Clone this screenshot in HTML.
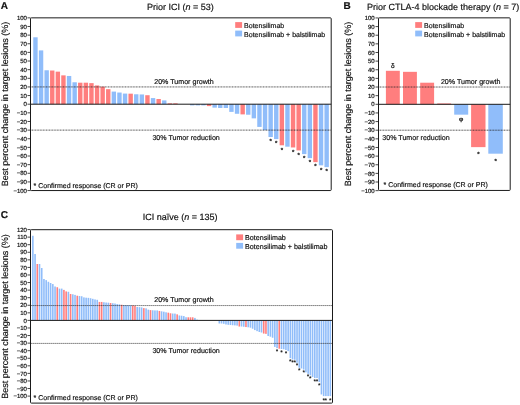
<!DOCTYPE html>
<html lang="en"><head><meta charset="utf-8"><title>Waterfall plots</title>
<style>html,body{margin:0;padding:0;background:#fff;}body{width:520px;height:405px;overflow:hidden;}svg{display:block;}text{text-rendering:geometricPrecision;font-family:'Liberation Sans', Arial, sans-serif;fill:#111;stroke:#111;stroke-width:0.18px;}</style>
</head><body>
<svg width="520" height="405" viewBox="0 0 520 405">
<rect width="520" height="405" fill="#fff"/>
<text x="0.7" y="9.1" font-size="10" font-weight="bold">A</text>
<text x="147" y="10.15" font-size="9">Prior ICI (<tspan font-style="italic">n</tspan> = 53)</text>
<text transform="translate(7.5 104) rotate(-90)" text-anchor="middle" font-size="9">Best percent change in target lesions (%)</text>
<rect x="33.25" y="37.28" width="4.4" height="66.92" fill="#90BDFA"/>
<rect x="38.85" y="50.4" width="4.4" height="53.8" fill="#90BDFA"/>
<rect x="44.45" y="70.26" width="4.4" height="33.94" fill="#90BDFA"/>
<rect x="50.05" y="70.52" width="4.4" height="33.68" fill="#FF7E7E"/>
<rect x="55.65" y="71.65" width="4.4" height="32.55" fill="#FF7E7E"/>
<rect x="61.25" y="75.36" width="4.4" height="28.84" fill="#FF7E7E"/>
<rect x="66.85" y="75.96" width="4.4" height="28.24" fill="#90BDFA"/>
<rect x="72.45" y="82.27" width="4.4" height="21.93" fill="#90BDFA"/>
<rect x="78.05" y="82.7" width="4.4" height="21.5" fill="#FF7E7E"/>
<rect x="83.65" y="82.7" width="4.4" height="21.5" fill="#FF7E7E"/>
<rect x="89.25" y="83.13" width="4.4" height="21.07" fill="#FF7E7E"/>
<rect x="94.85" y="85.46" width="4.4" height="18.74" fill="#FF7E7E"/>
<rect x="100.45" y="86.67" width="4.4" height="17.53" fill="#FF7E7E"/>
<rect x="106.05" y="89.18" width="4.4" height="15.02" fill="#FF7E7E"/>
<rect x="111.65" y="91.59" width="4.4" height="12.61" fill="#90BDFA"/>
<rect x="117.25" y="92.54" width="4.4" height="11.66" fill="#90BDFA"/>
<rect x="122.85" y="93.58" width="4.4" height="10.62" fill="#90BDFA"/>
<rect x="128.45" y="93.67" width="4.4" height="10.53" fill="#FF7E7E"/>
<rect x="134.05" y="94.27" width="4.4" height="9.93" fill="#90BDFA"/>
<rect x="139.65" y="94.44" width="4.4" height="9.76" fill="#90BDFA"/>
<rect x="145.25" y="95.22" width="4.4" height="8.98" fill="#FF7E7E"/>
<rect x="150.85" y="98.07" width="4.4" height="6.13" fill="#90BDFA"/>
<rect x="156.45" y="99.02" width="4.4" height="5.18" fill="#FF7E7E"/>
<rect x="162.05" y="100.4" width="4.4" height="3.8" fill="#90BDFA"/>
<rect x="167.65" y="103.34" width="4.4" height="0.86" fill="#FF7E7E"/>
<rect x="173.25" y="103.34" width="4.4" height="0.86" fill="#FF7E7E"/>
<rect x="190.05" y="104.2" width="4.4" height="1.21" fill="#90BDFA"/>
<rect x="195.65" y="104.2" width="4.4" height="1.21" fill="#90BDFA"/>
<rect x="201.25" y="104.2" width="4.4" height="1.21" fill="#90BDFA"/>
<rect x="206.85" y="104.2" width="4.4" height="1.9" fill="#FF7E7E"/>
<rect x="212.45" y="104.2" width="4.4" height="3.45" fill="#90BDFA"/>
<rect x="218.05" y="104.2" width="4.4" height="3.8" fill="#90BDFA"/>
<rect x="223.65" y="104.2" width="4.4" height="3.8" fill="#90BDFA"/>
<rect x="229.25" y="104.2" width="4.4" height="7.69" fill="#90BDFA"/>
<rect x="234.85" y="104.2" width="4.4" height="9.58" fill="#90BDFA"/>
<rect x="240.45" y="104.2" width="4.4" height="10.19" fill="#FF7E7E"/>
<rect x="246.05" y="104.2" width="4.4" height="10.53" fill="#90BDFA"/>
<rect x="251.65" y="104.2" width="4.4" height="14.16" fill="#90BDFA"/>
<rect x="257.25" y="104.2" width="4.4" height="22.71" fill="#90BDFA"/>
<rect x="262.85" y="104.2" width="4.4" height="25.91" fill="#90BDFA"/>
<rect x="268.45" y="104.2" width="4.4" height="32.81" fill="#90BDFA"/>
<rect x="274.05" y="104.2" width="4.4" height="34.89" fill="#90BDFA"/>
<rect x="279.65" y="104.2" width="4.4" height="41.1" fill="#FF7E7E"/>
<rect x="285.25" y="104.2" width="4.4" height="42.48" fill="#90BDFA"/>
<rect x="290.85" y="104.2" width="4.4" height="43.26" fill="#FF7E7E"/>
<rect x="296.45" y="104.2" width="4.4" height="46.2" fill="#FF7E7E"/>
<rect x="302.05" y="104.2" width="4.4" height="49.91" fill="#90BDFA"/>
<rect x="307.65" y="104.2" width="4.4" height="53.97" fill="#90BDFA"/>
<rect x="313.25" y="104.2" width="4.4" height="57.94" fill="#FF7E7E"/>
<rect x="318.85" y="104.2" width="4.4" height="61.14" fill="#90BDFA"/>
<rect x="324.45" y="104.2" width="4.4" height="62.95" fill="#90BDFA"/>
<line x1="30.5" y1="86.93" x2="331.2" y2="86.93" stroke="#222" stroke-width="0.8" stroke-dasharray="0.95 0.6"/>
<line x1="30.5" y1="130.11" x2="331.2" y2="130.11" stroke="#222" stroke-width="0.8" stroke-dasharray="0.95 0.6"/>
<line x1="30.5" y1="104.2" x2="331.2" y2="104.2" stroke="#1a1a1a" stroke-width="1"/>
<rect x="30.5" y="17.85" width="300.7" height="172.7" fill="none" stroke="#1a1a1a" stroke-width="1" rx="0.8"/>
<line x1="27.5" y1="17.85" x2="30.5" y2="17.85" stroke="#1a1a1a" stroke-width="0.8"/>
<text x="26.9" y="20" font-size="6" text-anchor="end">100</text>
<line x1="27.5" y1="26.48" x2="30.5" y2="26.48" stroke="#1a1a1a" stroke-width="0.8"/>
<text x="26.9" y="28.63" font-size="6" text-anchor="end">90</text>
<line x1="27.5" y1="35.12" x2="30.5" y2="35.12" stroke="#1a1a1a" stroke-width="0.8"/>
<text x="26.9" y="37.27" font-size="6" text-anchor="end">80</text>
<line x1="27.5" y1="43.76" x2="30.5" y2="43.76" stroke="#1a1a1a" stroke-width="0.8"/>
<text x="26.9" y="45.91" font-size="6" text-anchor="end">70</text>
<line x1="27.5" y1="52.39" x2="30.5" y2="52.39" stroke="#1a1a1a" stroke-width="0.8"/>
<text x="26.9" y="54.54" font-size="6" text-anchor="end">60</text>
<line x1="27.5" y1="61.02" x2="30.5" y2="61.02" stroke="#1a1a1a" stroke-width="0.8"/>
<text x="26.9" y="63.17" font-size="6" text-anchor="end">50</text>
<line x1="27.5" y1="69.66" x2="30.5" y2="69.66" stroke="#1a1a1a" stroke-width="0.8"/>
<text x="26.9" y="71.81" font-size="6" text-anchor="end">40</text>
<line x1="27.5" y1="78.3" x2="30.5" y2="78.3" stroke="#1a1a1a" stroke-width="0.8"/>
<text x="26.9" y="80.45" font-size="6" text-anchor="end">30</text>
<line x1="27.5" y1="86.93" x2="30.5" y2="86.93" stroke="#1a1a1a" stroke-width="0.8"/>
<text x="26.9" y="89.08" font-size="6" text-anchor="end">20</text>
<line x1="27.5" y1="95.56" x2="30.5" y2="95.56" stroke="#1a1a1a" stroke-width="0.8"/>
<text x="26.9" y="97.72" font-size="6" text-anchor="end">10</text>
<line x1="27.5" y1="104.2" x2="30.5" y2="104.2" stroke="#1a1a1a" stroke-width="0.8"/>
<text x="26.9" y="106.35" font-size="6" text-anchor="end">0</text>
<line x1="27.5" y1="112.84" x2="30.5" y2="112.84" stroke="#1a1a1a" stroke-width="0.8"/>
<text x="26.9" y="114.99" font-size="6" text-anchor="end">−10</text>
<line x1="27.5" y1="121.47" x2="30.5" y2="121.47" stroke="#1a1a1a" stroke-width="0.8"/>
<text x="26.9" y="123.62" font-size="6" text-anchor="end">−20</text>
<line x1="27.5" y1="130.11" x2="30.5" y2="130.11" stroke="#1a1a1a" stroke-width="0.8"/>
<text x="26.9" y="132.26" font-size="6" text-anchor="end">−30</text>
<line x1="27.5" y1="138.74" x2="30.5" y2="138.74" stroke="#1a1a1a" stroke-width="0.8"/>
<text x="26.9" y="140.89" font-size="6" text-anchor="end">−40</text>
<line x1="27.5" y1="147.38" x2="30.5" y2="147.38" stroke="#1a1a1a" stroke-width="0.8"/>
<text x="26.9" y="149.53" font-size="6" text-anchor="end">−50</text>
<line x1="27.5" y1="156.01" x2="30.5" y2="156.01" stroke="#1a1a1a" stroke-width="0.8"/>
<text x="26.9" y="158.16" font-size="6" text-anchor="end">−60</text>
<line x1="27.5" y1="164.65" x2="30.5" y2="164.65" stroke="#1a1a1a" stroke-width="0.8"/>
<text x="26.9" y="166.8" font-size="6" text-anchor="end">−70</text>
<line x1="27.5" y1="173.28" x2="30.5" y2="173.28" stroke="#1a1a1a" stroke-width="0.8"/>
<text x="26.9" y="175.43" font-size="6" text-anchor="end">−80</text>
<line x1="27.5" y1="181.92" x2="30.5" y2="181.92" stroke="#1a1a1a" stroke-width="0.8"/>
<text x="26.9" y="184.07" font-size="6" text-anchor="end">−90</text>
<line x1="27.5" y1="190.55" x2="30.5" y2="190.55" stroke="#1a1a1a" stroke-width="0.8"/>
<text x="26.9" y="192.7" font-size="6" text-anchor="end">−100</text>
<text x="270.65" y="143.21" font-size="6" font-weight="bold" text-anchor="middle">*</text>
<text x="276.25" y="145.29" font-size="6" font-weight="bold" text-anchor="middle">*</text>
<text x="281.85" y="151.5" font-size="6" font-weight="bold" text-anchor="middle">*</text>
<text x="293.05" y="153.66" font-size="6" font-weight="bold" text-anchor="middle">*</text>
<text x="298.65" y="156.6" font-size="6" font-weight="bold" text-anchor="middle">*</text>
<text x="304.25" y="160.31" font-size="6" font-weight="bold" text-anchor="middle">*</text>
<text x="309.85" y="164.37" font-size="6" font-weight="bold" text-anchor="middle">*</text>
<text x="315.45" y="168.34" font-size="6" font-weight="bold" text-anchor="middle">*</text>
<text x="321.05" y="171.54" font-size="6" font-weight="bold" text-anchor="middle">*</text>
<text x="326.65" y="173.35" font-size="6" font-weight="bold" text-anchor="middle">*</text>
<rect x="235.2" y="22.1" width="6.9" height="5.8" fill="#FF7E7E"/>
<rect x="235.2" y="30.6" width="6.9" height="5.8" fill="#90BDFA"/>
<text x="244.1" y="27.9" font-size="7">Botensilimab</text>
<text x="244.1" y="36.8" font-size="7">Botensilimab + balstilimab</text>
<text x="154.2" y="84.1" font-size="7.1">20% Tumor growth</text>
<text x="152.4" y="139.9" font-size="7.1">30% Tumor reduction</text>
<text x="33.6" y="187.7" font-size="7">* Confirmed response (CR or PR)</text>
<text x="343.6" y="9.1" font-size="10" font-weight="bold">B</text>
<text x="367" y="9.95" font-size="9">Prior CTLA-4 blockade therapy (<tspan font-style="italic">n</tspan> = 7)</text>
<text transform="translate(351.2 104) rotate(-90)" text-anchor="middle" font-size="9">Best percent change in target lesions (%)</text>
<rect x="385.9" y="70.8" width="13.9" height="33.5" fill="#FF7E7E"/>
<rect x="403" y="71.83" width="13.9" height="32.47" fill="#FF7E7E"/>
<rect x="420.2" y="82.71" width="13.9" height="21.59" fill="#FF7E7E"/>
<rect x="437.2" y="103.44" width="13.9" height="0.86" fill="#FF7E7E"/>
<rect x="454.2" y="104.3" width="14" height="10.36" fill="#90BDFA"/>
<rect x="471.1" y="104.3" width="14.4" height="42.83" fill="#FF7E7E"/>
<rect x="488.3" y="104.3" width="14.5" height="49.39" fill="#90BDFA"/>
<line x1="378.5" y1="87.03" x2="510.2" y2="87.03" stroke="#222" stroke-width="0.8" stroke-dasharray="0.95 0.6"/>
<line x1="378.5" y1="130.2" x2="510.2" y2="130.2" stroke="#222" stroke-width="0.8" stroke-dasharray="0.95 0.6"/>
<line x1="378.5" y1="104.3" x2="510.2" y2="104.3" stroke="#1a1a1a" stroke-width="1"/>
<rect x="378.5" y="17.85" width="131.7" height="172.6" fill="none" stroke="#1a1a1a" stroke-width="1" rx="0.8"/>
<line x1="375.5" y1="17.95" x2="378.5" y2="17.95" stroke="#1a1a1a" stroke-width="0.8"/>
<text x="374.7" y="20.1" font-size="6" text-anchor="end">100</text>
<line x1="375.5" y1="26.58" x2="378.5" y2="26.58" stroke="#1a1a1a" stroke-width="0.8"/>
<text x="374.7" y="28.73" font-size="6" text-anchor="end">90</text>
<line x1="375.5" y1="35.22" x2="378.5" y2="35.22" stroke="#1a1a1a" stroke-width="0.8"/>
<text x="374.7" y="37.37" font-size="6" text-anchor="end">80</text>
<line x1="375.5" y1="43.85" x2="378.5" y2="43.85" stroke="#1a1a1a" stroke-width="0.8"/>
<text x="374.7" y="46" font-size="6" text-anchor="end">70</text>
<line x1="375.5" y1="52.49" x2="378.5" y2="52.49" stroke="#1a1a1a" stroke-width="0.8"/>
<text x="374.7" y="54.64" font-size="6" text-anchor="end">60</text>
<line x1="375.5" y1="61.12" x2="378.5" y2="61.12" stroke="#1a1a1a" stroke-width="0.8"/>
<text x="374.7" y="63.27" font-size="6" text-anchor="end">50</text>
<line x1="375.5" y1="69.76" x2="378.5" y2="69.76" stroke="#1a1a1a" stroke-width="0.8"/>
<text x="374.7" y="71.91" font-size="6" text-anchor="end">40</text>
<line x1="375.5" y1="78.39" x2="378.5" y2="78.39" stroke="#1a1a1a" stroke-width="0.8"/>
<text x="374.7" y="80.55" font-size="6" text-anchor="end">30</text>
<line x1="375.5" y1="87.03" x2="378.5" y2="87.03" stroke="#1a1a1a" stroke-width="0.8"/>
<text x="374.7" y="89.18" font-size="6" text-anchor="end">20</text>
<line x1="375.5" y1="95.66" x2="378.5" y2="95.66" stroke="#1a1a1a" stroke-width="0.8"/>
<text x="374.7" y="97.81" font-size="6" text-anchor="end">10</text>
<line x1="375.5" y1="104.3" x2="378.5" y2="104.3" stroke="#1a1a1a" stroke-width="0.8"/>
<text x="374.7" y="106.45" font-size="6" text-anchor="end">0</text>
<line x1="375.5" y1="112.94" x2="378.5" y2="112.94" stroke="#1a1a1a" stroke-width="0.8"/>
<text x="374.7" y="115.09" font-size="6" text-anchor="end">−10</text>
<line x1="375.5" y1="121.57" x2="378.5" y2="121.57" stroke="#1a1a1a" stroke-width="0.8"/>
<text x="374.7" y="123.72" font-size="6" text-anchor="end">−20</text>
<line x1="375.5" y1="130.2" x2="378.5" y2="130.2" stroke="#1a1a1a" stroke-width="0.8"/>
<text x="374.7" y="132.35" font-size="6" text-anchor="end">−30</text>
<line x1="375.5" y1="138.84" x2="378.5" y2="138.84" stroke="#1a1a1a" stroke-width="0.8"/>
<text x="374.7" y="140.99" font-size="6" text-anchor="end">−40</text>
<line x1="375.5" y1="147.47" x2="378.5" y2="147.47" stroke="#1a1a1a" stroke-width="0.8"/>
<text x="374.7" y="149.62" font-size="6" text-anchor="end">−50</text>
<line x1="375.5" y1="156.11" x2="378.5" y2="156.11" stroke="#1a1a1a" stroke-width="0.8"/>
<text x="374.7" y="158.26" font-size="6" text-anchor="end">−60</text>
<line x1="375.5" y1="164.75" x2="378.5" y2="164.75" stroke="#1a1a1a" stroke-width="0.8"/>
<text x="374.7" y="166.9" font-size="6" text-anchor="end">−70</text>
<line x1="375.5" y1="173.38" x2="378.5" y2="173.38" stroke="#1a1a1a" stroke-width="0.8"/>
<text x="374.7" y="175.53" font-size="6" text-anchor="end">−80</text>
<line x1="375.5" y1="182.01" x2="378.5" y2="182.01" stroke="#1a1a1a" stroke-width="0.8"/>
<text x="374.7" y="184.16" font-size="6" text-anchor="end">−90</text>
<line x1="375.5" y1="190.65" x2="378.5" y2="190.65" stroke="#1a1a1a" stroke-width="0.8"/>
<text x="374.7" y="192.8" font-size="6" text-anchor="end">−100</text>
<text x="478.3" y="156.33" font-size="6" font-weight="bold" text-anchor="middle">*</text>
<text x="495.55" y="162.89" font-size="6" font-weight="bold" text-anchor="middle">*</text>
<rect x="415.2" y="22.1" width="6.9" height="5.8" fill="#FF7E7E"/>
<rect x="415.2" y="30.6" width="6.9" height="5.8" fill="#90BDFA"/>
<text x="424.1" y="27.9" font-size="7">Botensilimab</text>
<text x="424.1" y="36.8" font-size="7">Botensilimab + balstilimab</text>
<text x="440.9" y="84.2" font-size="7.1">20% Tumor growth</text>
<text x="382.3" y="139.7" font-size="7.1">30% Tumor reduction</text>
<text x="383.6" y="187.3" font-size="7">* Confirmed response (CR or PR)</text>
<text x="392.7" y="67.8" font-size="6.5" text-anchor="middle">δ</text>
<text x="461.2" y="121.1" font-size="6" font-weight="bold" text-anchor="middle">φ</text>
<text x="0.7" y="218.4" font-size="10" font-weight="bold">C</text>
<text x="142.8" y="219.8" font-size="9">ICI naïve (<tspan font-style="italic">n</tspan> = 135)</text>
<text transform="translate(7.5 316.5) rotate(-90)" text-anchor="middle" font-size="9">Best percent change in target lesions (%)</text>
<rect x="32.05" y="235.77" width="1.6" height="84.63" fill="#90BDFA"/>
<rect x="34.27" y="254.01" width="1.6" height="66.39" fill="#90BDFA"/>
<rect x="36.49" y="264" width="1.6" height="56.4" fill="#FF7E7E"/>
<rect x="38.71" y="264" width="1.6" height="56.4" fill="#90BDFA"/>
<rect x="40.93" y="268.02" width="1.6" height="52.38" fill="#90BDFA"/>
<rect x="43.15" y="278.99" width="1.6" height="41.41" fill="#90BDFA"/>
<rect x="45.37" y="280.13" width="1.6" height="40.27" fill="#90BDFA"/>
<rect x="47.59" y="281.79" width="1.6" height="38.61" fill="#90BDFA"/>
<rect x="49.81" y="283" width="1.6" height="37.4" fill="#90BDFA"/>
<rect x="52.03" y="284.06" width="1.6" height="36.34" fill="#90BDFA"/>
<rect x="54.25" y="286.49" width="1.6" height="33.91" fill="#90BDFA"/>
<rect x="56.47" y="287.24" width="1.6" height="33.16" fill="#FF7E7E"/>
<rect x="58.69" y="288.61" width="1.6" height="31.79" fill="#90BDFA"/>
<rect x="60.91" y="288.61" width="1.6" height="31.79" fill="#90BDFA"/>
<rect x="63.13" y="289.89" width="1.6" height="30.51" fill="#FF7E7E"/>
<rect x="65.35" y="291.41" width="1.6" height="28.99" fill="#FF7E7E"/>
<rect x="67.57" y="291.79" width="1.6" height="28.61" fill="#90BDFA"/>
<rect x="69.79" y="293.98" width="1.6" height="26.42" fill="#FF7E7E"/>
<rect x="72.01" y="294.28" width="1.6" height="26.12" fill="#90BDFA"/>
<rect x="74.23" y="294.89" width="1.6" height="25.51" fill="#90BDFA"/>
<rect x="76.45" y="295.72" width="1.6" height="24.68" fill="#FF7E7E"/>
<rect x="78.67" y="296.02" width="1.6" height="24.38" fill="#90BDFA"/>
<rect x="80.89" y="296.25" width="1.6" height="24.15" fill="#90BDFA"/>
<rect x="83.11" y="297.39" width="1.6" height="23.01" fill="#90BDFA"/>
<rect x="85.33" y="297.69" width="1.6" height="22.71" fill="#90BDFA"/>
<rect x="87.55" y="297.84" width="1.6" height="22.56" fill="#90BDFA"/>
<rect x="89.77" y="298.22" width="1.6" height="22.18" fill="#90BDFA"/>
<rect x="91.99" y="298.83" width="1.6" height="21.57" fill="#90BDFA"/>
<rect x="94.21" y="299.43" width="1.6" height="20.97" fill="#90BDFA"/>
<rect x="96.43" y="299.81" width="1.6" height="20.59" fill="#90BDFA"/>
<rect x="98.65" y="301.93" width="1.6" height="18.47" fill="#FF7E7E"/>
<rect x="100.87" y="301.93" width="1.6" height="18.47" fill="#FF7E7E"/>
<rect x="103.09" y="302.23" width="1.6" height="18.17" fill="#90BDFA"/>
<rect x="105.31" y="302.53" width="1.6" height="17.87" fill="#90BDFA"/>
<rect x="107.53" y="302.69" width="1.6" height="17.71" fill="#90BDFA"/>
<rect x="109.75" y="302.99" width="1.6" height="17.41" fill="#FF7E7E"/>
<rect x="111.97" y="303.22" width="1.6" height="17.18" fill="#90BDFA"/>
<rect x="114.19" y="303.52" width="1.6" height="16.88" fill="#90BDFA"/>
<rect x="116.41" y="304.12" width="1.6" height="16.28" fill="#90BDFA"/>
<rect x="118.63" y="304.35" width="1.6" height="16.05" fill="#90BDFA"/>
<rect x="120.85" y="304.73" width="1.6" height="15.67" fill="#FF7E7E"/>
<rect x="123.07" y="305.03" width="1.6" height="15.37" fill="#90BDFA"/>
<rect x="125.29" y="305.11" width="1.6" height="15.29" fill="#90BDFA"/>
<rect x="127.51" y="305.18" width="1.6" height="15.22" fill="#90BDFA"/>
<rect x="129.73" y="305.26" width="1.6" height="15.14" fill="#90BDFA"/>
<rect x="131.95" y="305.41" width="1.6" height="14.99" fill="#FF7E7E"/>
<rect x="134.17" y="305.79" width="1.6" height="14.61" fill="#FF7E7E"/>
<rect x="136.39" y="307" width="1.6" height="13.4" fill="#90BDFA"/>
<rect x="138.61" y="307.15" width="1.6" height="13.25" fill="#90BDFA"/>
<rect x="140.83" y="307.38" width="1.6" height="13.02" fill="#90BDFA"/>
<rect x="143.05" y="308.14" width="1.6" height="12.26" fill="#FF7E7E"/>
<rect x="145.27" y="308.36" width="1.6" height="12.04" fill="#90BDFA"/>
<rect x="147.49" y="309.65" width="1.6" height="10.75" fill="#90BDFA"/>
<rect x="149.71" y="310.1" width="1.6" height="10.3" fill="#FF7E7E"/>
<rect x="151.93" y="310.26" width="1.6" height="10.14" fill="#90BDFA"/>
<rect x="154.15" y="310.41" width="1.6" height="9.99" fill="#90BDFA"/>
<rect x="156.37" y="310.41" width="1.6" height="9.99" fill="#90BDFA"/>
<rect x="158.59" y="310.94" width="1.6" height="9.46" fill="#FF7E7E"/>
<rect x="160.81" y="311.32" width="1.6" height="9.08" fill="#90BDFA"/>
<rect x="163.03" y="311.69" width="1.6" height="8.71" fill="#90BDFA"/>
<rect x="165.25" y="312.3" width="1.6" height="8.1" fill="#90BDFA"/>
<rect x="167.47" y="312.68" width="1.6" height="7.72" fill="#FF7E7E"/>
<rect x="169.69" y="313.28" width="1.6" height="7.12" fill="#FF7E7E"/>
<rect x="171.91" y="313.51" width="1.6" height="6.89" fill="#90BDFA"/>
<rect x="174.13" y="313.59" width="1.6" height="6.81" fill="#90BDFA"/>
<rect x="176.35" y="314.34" width="1.6" height="6.06" fill="#FF7E7E"/>
<rect x="178.57" y="315.48" width="1.6" height="4.92" fill="#90BDFA"/>
<rect x="180.79" y="315.71" width="1.6" height="4.69" fill="#90BDFA"/>
<rect x="183.01" y="316.09" width="1.6" height="4.31" fill="#90BDFA"/>
<rect x="185.23" y="317.22" width="1.6" height="3.18" fill="#90BDFA"/>
<rect x="187.45" y="317.3" width="1.6" height="3.1" fill="#FF7E7E"/>
<rect x="189.67" y="317.3" width="1.6" height="3.1" fill="#FF7E7E"/>
<rect x="191.89" y="317.3" width="1.6" height="3.1" fill="#FF7E7E"/>
<rect x="194.11" y="317.9" width="1.6" height="2.5" fill="#90BDFA"/>
<rect x="196.33" y="319.64" width="1.6" height="0.76" fill="#90BDFA"/>
<rect x="198.55" y="320.02" width="1.6" height="0.38" fill="#FF7E7E"/>
<rect x="218.53" y="320.4" width="1.6" height="3.1" fill="#90BDFA"/>
<rect x="220.75" y="320.4" width="1.6" height="3.1" fill="#90BDFA"/>
<rect x="222.97" y="320.4" width="1.6" height="3.41" fill="#90BDFA"/>
<rect x="225.19" y="320.4" width="1.6" height="4.09" fill="#90BDFA"/>
<rect x="227.41" y="320.4" width="1.6" height="4.39" fill="#90BDFA"/>
<rect x="229.63" y="320.4" width="1.6" height="4.62" fill="#90BDFA"/>
<rect x="231.85" y="320.4" width="1.6" height="4.84" fill="#90BDFA"/>
<rect x="234.07" y="320.4" width="1.6" height="5" fill="#90BDFA"/>
<rect x="236.29" y="320.4" width="1.6" height="5.22" fill="#90BDFA"/>
<rect x="238.51" y="320.4" width="1.6" height="6.13" fill="#FF7E7E"/>
<rect x="240.73" y="320.4" width="1.6" height="6.13" fill="#90BDFA"/>
<rect x="242.95" y="320.4" width="1.6" height="6.36" fill="#90BDFA"/>
<rect x="245.17" y="320.4" width="1.6" height="6.66" fill="#FF7E7E"/>
<rect x="247.39" y="320.4" width="1.6" height="6.89" fill="#90BDFA"/>
<rect x="249.61" y="320.4" width="1.6" height="7.27" fill="#90BDFA"/>
<rect x="251.83" y="320.4" width="1.6" height="8.33" fill="#90BDFA"/>
<rect x="254.05" y="320.4" width="1.6" height="9.69" fill="#90BDFA"/>
<rect x="256.27" y="320.4" width="1.6" height="10.75" fill="#90BDFA"/>
<rect x="258.49" y="320.4" width="1.6" height="11.58" fill="#90BDFA"/>
<rect x="260.71" y="320.4" width="1.6" height="12.11" fill="#90BDFA"/>
<rect x="262.93" y="320.4" width="1.6" height="13.17" fill="#FF7E7E"/>
<rect x="265.15" y="320.4" width="1.6" height="13.47" fill="#FF7E7E"/>
<rect x="267.37" y="320.4" width="1.6" height="15.59" fill="#90BDFA"/>
<rect x="269.59" y="320.4" width="1.6" height="16.28" fill="#90BDFA"/>
<rect x="271.81" y="320.4" width="1.6" height="17.34" fill="#90BDFA"/>
<rect x="274.03" y="320.4" width="1.6" height="26.5" fill="#90BDFA"/>
<rect x="276.25" y="320.4" width="1.6" height="27.78" fill="#90BDFA"/>
<rect x="278.47" y="320.4" width="1.6" height="28.31" fill="#FF7E7E"/>
<rect x="280.69" y="320.4" width="1.6" height="28.61" fill="#90BDFA"/>
<rect x="282.91" y="320.4" width="1.6" height="28.84" fill="#90BDFA"/>
<rect x="285.13" y="320.4" width="1.6" height="29.6" fill="#90BDFA"/>
<rect x="287.35" y="320.4" width="1.6" height="30.73" fill="#90BDFA"/>
<rect x="289.57" y="320.4" width="1.6" height="37.7" fill="#90BDFA"/>
<rect x="291.79" y="320.4" width="1.6" height="39.06" fill="#90BDFA"/>
<rect x="294.01" y="320.4" width="1.6" height="39.36" fill="#90BDFA"/>
<rect x="296.23" y="320.4" width="1.6" height="42.32" fill="#90BDFA"/>
<rect x="298.45" y="320.4" width="1.6" height="47.31" fill="#90BDFA"/>
<rect x="300.67" y="320.4" width="1.6" height="48.07" fill="#90BDFA"/>
<rect x="302.89" y="320.4" width="1.6" height="49.2" fill="#90BDFA"/>
<rect x="305.11" y="320.4" width="1.6" height="51.93" fill="#90BDFA"/>
<rect x="307.33" y="320.4" width="1.6" height="53.44" fill="#90BDFA"/>
<rect x="309.55" y="320.4" width="1.6" height="54.96" fill="#90BDFA"/>
<rect x="311.77" y="320.4" width="1.6" height="56.55" fill="#90BDFA"/>
<rect x="313.99" y="320.4" width="1.6" height="57.68" fill="#90BDFA"/>
<rect x="316.21" y="320.4" width="1.6" height="57.68" fill="#90BDFA"/>
<rect x="318.43" y="320.4" width="1.6" height="61.54" fill="#90BDFA"/>
<rect x="320.65" y="320.4" width="1.6" height="74.03" fill="#90BDFA"/>
<rect x="322.87" y="320.4" width="1.6" height="75.7" fill="#90BDFA"/>
<rect x="325.09" y="320.4" width="1.6" height="75.7" fill="#90BDFA"/>
<rect x="327.31" y="320.4" width="1.6" height="75.7" fill="#90BDFA"/>
<rect x="329.53" y="320.4" width="1.6" height="75.7" fill="#90BDFA"/>
<line x1="30.5" y1="305.56" x2="332.5" y2="305.56" stroke="#222" stroke-width="0.7" stroke-dasharray="1.3 0.7"/>
<line x1="30.5" y1="343.41" x2="332.5" y2="343.41" stroke="#222" stroke-width="0.7" stroke-dasharray="1.3 0.7"/>
<line x1="30.5" y1="320.4" x2="332.5" y2="320.4" stroke="#1a1a1a" stroke-width="1"/>
<rect x="30.5" y="229.7" width="302" height="173.4" fill="none" stroke="#1a1a1a" stroke-width="1" rx="0.8"/>
<line x1="27.5" y1="229.56" x2="30.5" y2="229.56" stroke="#1a1a1a" stroke-width="0.8"/>
<text x="26.9" y="231.71" font-size="6" text-anchor="end">120</text>
<line x1="27.5" y1="237.13" x2="30.5" y2="237.13" stroke="#1a1a1a" stroke-width="0.8"/>
<text x="26.9" y="239.28" font-size="6" text-anchor="end">110</text>
<line x1="27.5" y1="244.7" x2="30.5" y2="244.7" stroke="#1a1a1a" stroke-width="0.8"/>
<text x="26.9" y="246.85" font-size="6" text-anchor="end">100</text>
<line x1="27.5" y1="252.27" x2="30.5" y2="252.27" stroke="#1a1a1a" stroke-width="0.8"/>
<text x="26.9" y="254.42" font-size="6" text-anchor="end">90</text>
<line x1="27.5" y1="259.84" x2="30.5" y2="259.84" stroke="#1a1a1a" stroke-width="0.8"/>
<text x="26.9" y="261.99" font-size="6" text-anchor="end">80</text>
<line x1="27.5" y1="267.41" x2="30.5" y2="267.41" stroke="#1a1a1a" stroke-width="0.8"/>
<text x="26.9" y="269.56" font-size="6" text-anchor="end">70</text>
<line x1="27.5" y1="274.98" x2="30.5" y2="274.98" stroke="#1a1a1a" stroke-width="0.8"/>
<text x="26.9" y="277.13" font-size="6" text-anchor="end">60</text>
<line x1="27.5" y1="282.55" x2="30.5" y2="282.55" stroke="#1a1a1a" stroke-width="0.8"/>
<text x="26.9" y="284.7" font-size="6" text-anchor="end">50</text>
<line x1="27.5" y1="290.12" x2="30.5" y2="290.12" stroke="#1a1a1a" stroke-width="0.8"/>
<text x="26.9" y="292.27" font-size="6" text-anchor="end">40</text>
<line x1="27.5" y1="297.69" x2="30.5" y2="297.69" stroke="#1a1a1a" stroke-width="0.8"/>
<text x="26.9" y="299.84" font-size="6" text-anchor="end">30</text>
<line x1="27.5" y1="305.26" x2="30.5" y2="305.26" stroke="#1a1a1a" stroke-width="0.8"/>
<text x="26.9" y="307.41" font-size="6" text-anchor="end">20</text>
<line x1="27.5" y1="312.83" x2="30.5" y2="312.83" stroke="#1a1a1a" stroke-width="0.8"/>
<text x="26.9" y="314.98" font-size="6" text-anchor="end">10</text>
<line x1="27.5" y1="320.4" x2="30.5" y2="320.4" stroke="#1a1a1a" stroke-width="0.8"/>
<text x="26.9" y="322.55" font-size="6" text-anchor="end">0</text>
<line x1="27.5" y1="327.97" x2="30.5" y2="327.97" stroke="#1a1a1a" stroke-width="0.8"/>
<text x="26.9" y="330.12" font-size="6" text-anchor="end">−10</text>
<line x1="27.5" y1="335.54" x2="30.5" y2="335.54" stroke="#1a1a1a" stroke-width="0.8"/>
<text x="26.9" y="337.69" font-size="6" text-anchor="end">−20</text>
<line x1="27.5" y1="343.11" x2="30.5" y2="343.11" stroke="#1a1a1a" stroke-width="0.8"/>
<text x="26.9" y="345.26" font-size="6" text-anchor="end">−30</text>
<line x1="27.5" y1="350.68" x2="30.5" y2="350.68" stroke="#1a1a1a" stroke-width="0.8"/>
<text x="26.9" y="352.83" font-size="6" text-anchor="end">−40</text>
<line x1="27.5" y1="358.25" x2="30.5" y2="358.25" stroke="#1a1a1a" stroke-width="0.8"/>
<text x="26.9" y="360.4" font-size="6" text-anchor="end">−50</text>
<line x1="27.5" y1="365.82" x2="30.5" y2="365.82" stroke="#1a1a1a" stroke-width="0.8"/>
<text x="26.9" y="367.97" font-size="6" text-anchor="end">−60</text>
<line x1="27.5" y1="373.39" x2="30.5" y2="373.39" stroke="#1a1a1a" stroke-width="0.8"/>
<text x="26.9" y="375.54" font-size="6" text-anchor="end">−70</text>
<line x1="27.5" y1="380.96" x2="30.5" y2="380.96" stroke="#1a1a1a" stroke-width="0.8"/>
<text x="26.9" y="383.11" font-size="6" text-anchor="end">−80</text>
<line x1="27.5" y1="388.53" x2="30.5" y2="388.53" stroke="#1a1a1a" stroke-width="0.8"/>
<text x="26.9" y="390.68" font-size="6" text-anchor="end">−90</text>
<line x1="27.5" y1="396.1" x2="30.5" y2="396.1" stroke="#1a1a1a" stroke-width="0.8"/>
<text x="26.9" y="398.25" font-size="6" text-anchor="end">−100</text>
<text x="277.05" y="352.8" font-size="5.2" font-weight="bold" text-anchor="middle">*</text>
<text x="281.49" y="353.63" font-size="5.2" font-weight="bold" text-anchor="middle">*</text>
<text x="285.93" y="354.62" font-size="5.2" font-weight="bold" text-anchor="middle">*</text>
<text x="290.37" y="362.72" font-size="5.2" font-weight="bold" text-anchor="middle">*</text>
<text x="292.59" y="364.08" font-size="5.2" font-weight="bold" text-anchor="middle">*</text>
<text x="294.81" y="364.38" font-size="5.2" font-weight="bold" text-anchor="middle">*</text>
<text x="297.03" y="367.34" font-size="5.2" font-weight="bold" text-anchor="middle">*</text>
<text x="299.25" y="372.33" font-size="5.2" font-weight="bold" text-anchor="middle">*</text>
<text x="303.69" y="374.22" font-size="5.2" font-weight="bold" text-anchor="middle">*</text>
<text x="308.13" y="378.46" font-size="5.2" font-weight="bold" text-anchor="middle">*</text>
<text x="310.35" y="379.98" font-size="5.2" font-weight="bold" text-anchor="middle">*</text>
<text x="314.79" y="382.7" font-size="5.2" font-weight="bold" text-anchor="middle">*</text>
<text x="317.01" y="382.7" font-size="5.2" font-weight="bold" text-anchor="middle">*</text>
<text x="319.23" y="386.56" font-size="5.2" font-weight="bold" text-anchor="middle">*</text>
<text x="323.67" y="401.92" font-size="5.2" font-weight="bold" text-anchor="middle">*</text>
<text x="325.89" y="401.92" font-size="5.2" font-weight="bold" text-anchor="middle">*</text>
<text x="330.33" y="401.92" font-size="5.2" font-weight="bold" text-anchor="middle">*</text>
<rect x="236.2" y="234.4" width="6.9" height="5.8" fill="#FF7E7E"/>
<rect x="236.2" y="242.9" width="6.9" height="5.8" fill="#90BDFA"/>
<text x="245.1" y="240.2" font-size="7.12">Botensilimab</text>
<text x="245.1" y="249.1" font-size="7.12">Botensilimab + balstilimab</text>
<text x="154.2" y="302.4" font-size="7.1">20% Tumor growth</text>
<text x="152.4" y="353.3" font-size="7.1">30% Tumor reduction</text>
<text x="33.6" y="400.2" font-size="7">* Confirmed response (CR or PR)</text>
</svg>
</body></html>
